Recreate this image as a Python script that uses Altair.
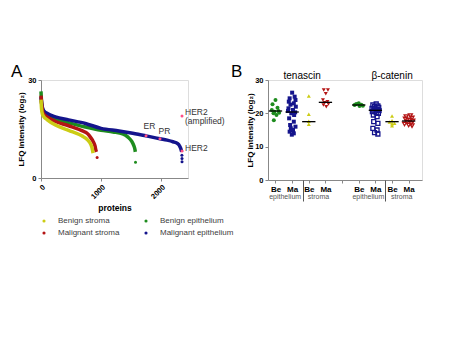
import altair as alt
import pandas as pd

FONT = "Liberation Sans"

# ---------------- Panel A data (ranked LFQ intensities) ----------
groups = ["Benign stroma", "Malignant stroma", "Benign epithelium", "Malignant epithelium"]
colors = ["#cccc14", "#b41414", "#1e8c1e", "#14148c"]

bs_rank = [0, 10, 25, 50, 100, 240, 460, 680, 780, 830, 850, 862, 868]
bs_lfq = [24.0, 21.0, 19.5, 18.7, 17.9, 16.2, 14.6, 12.9, 11.6, 10.3, 9.3, 8.2, 7.6]

be_rank = [0, 10, 25, 50, 100, 240, 460, 740, 1000, 1200, 1361, 1450, 1510, 1545, 1565, 1572]
be_lfq = [26.5, 23.0, 21.0, 20.0, 19.2, 18.0, 16.9, 15.6, 14.6, 14.1, 13.5, 12.5, 11.3, 10.0, 8.8, 8.0]

ms_rank = [0, 10, 25, 50, 100, 240, 460, 680, 780, 820, 860, 880, 900, 915, 925]
ms_lfq = [25.2, 23.0, 20.5, 19.5, 18.7, 17.3, 16.0, 14.5, 13.5, 12.6, 11.5, 10.8, 9.8, 8.5, 8.0]

me_rank = [0, 10, 25, 50, 100, 240, 460, 740, 1000, 1300, 1528, 1750, 1983, 2100, 2200, 2278, 2310, 2330, 2345]
me_lfq = [24.8, 23.0, 21.5, 20.5, 19.8, 18.7, 17.8, 16.7, 15.2, 14.4, 13.7, 12.9, 12.0, 11.6, 11.1, 10.5, 9.8, 9.0, 8.0]

# isolated end points
out_group = ["Benign epithelium", "Malignant stroma", "Malignant epithelium", "Malignant epithelium", "Malignant epithelium"]
out_rank = [1575, 935, 2348, 2350, 2350]
out_lfq = [4.8, 6.3, 7.0, 6.0, 5.0]

# marked proteins
mark_names = ["ER", "PR", "HER2", "HER2 amp"]
mark_rank = [1750, 1983, 2350, 2350]
mark_lfq = [12.9, 12.0, 8.3, 19.0]

ann_text = ["ER", "PR", "HER2", "(amplified)", "HER2"]
ann_rank = [1710, 1960, 2400, 2400, 2400]
ann_lfq = [14.9, 13.4, 19.4, 16.5, 8.3]

# ---------------- Panel B data ----------------
# position: 1 Be epi, 2 Ma epi, 3 Be stroma, 4 Ma stroma (tenascin); 6..9 same for beta-catenin
t_be_epi = [24.0, 22.7, 21.7, 21.0, 20.7, 20.5, 20.2, 20.0, 19.5, 17.9]
t_be_epi_dx = [0.0, -0.18, 0.12, -0.22, 0.18, -0.06, 0.22, -0.12, 0.06, -0.1]
t_ma_epi = [26.2, 25.0, 24.5, 24.0, 23.5, 23.0, 22.6, 22.0, 21.5, 21.0, 20.7, 20.3, 20.0, 19.5, 18.5,
            17.5, 16.5, 16.0, 15.5, 15.0, 14.5, 14.0, 13.6]
t_ma_epi_dx = [0.0, 0.15, -0.15, 0.2, -0.2, 0.1, -0.1, 0.22, -0.22, 0.05, -0.25, 0.18, -0.05, 0.12, -0.18,
               0.1, -0.12, 0.2, -0.08, 0.05, -0.15, 0.1, -0.02]
t_be_str = [25.2, 19.7, 17.6, 16.7]
t_be_str_dx = [0.0, 0.0, 0.0, 0.0]
t_ma_str = [27.0, 27.0, 25.9, 24.0, 23.5, 23.2, 22.8, 22.5, 22.0]
t_ma_str_dx = [-0.1, 0.15, 0.02, -0.15, 0.12, -0.05, 0.18, -0.12, 0.05]

c_be_epi = [23.0, 22.8, 22.6, 22.5, 22.3, 22.2]
c_be_epi_dx = [0.0, -0.15, 0.15, -0.25, 0.25, 0.05]
c_ma_epi = [22.8, 22.5, 22.2, 22.0, 21.8, 21.5, 21.2, 21.0, 20.8, 20.5, 20.2, 20.0, 19.5, 19.0,
            17.5, 17.0, 15.5, 15.0, 14.2, 13.8]
c_ma_epi_dx = [0.05, -0.15, 0.15, -0.05, 0.2, -0.2, 0.1, -0.1, 0.22, -0.18, 0.05, 0.18, -0.12, 0.1,
               -0.1, 0.15, -0.15, 0.1, -0.05, 0.15]
c_be_str = [19.2, 17.8, 17.4, 17.0, 16.9, 16.3]
c_be_str_dx = [0.0, 0.0, -0.15, 0.15, 0.0, 0.0]
c_ma_str = [19.3, 19.0, 18.6, 18.3, 18.0, 17.7, 17.4, 17.0, 16.8, 16.5, 16.3]
c_ma_str_dx = [0.1, -0.15, 0.2, -0.2, 0.05, 0.25, -0.1, 0.15, -0.25, 0.0, 0.2]

medians_pos = [1, 2, 3, 4, 6, 7, 8, 9]
medians_val = [20.7, 20.4, 17.5, 23.3, 22.5, 20.9, 17.5, 17.7]

positions = [1, 2, 3, 4, 6, 7, 8, 9]
pos_group = ["Benign epithelium", "Malignant epithelium", "Benign stroma", "Malignant stroma"] * 2
pos_filled = [True, True, True, True, True, False, True, False]
series_vals = [t_be_epi, t_ma_epi, t_be_str, t_ma_str, c_be_epi, c_ma_epi, c_be_str, c_ma_str]
series_dx = [t_be_epi_dx, t_ma_epi_dx, t_be_str_dx, t_ma_str_dx, c_be_epi_dx, c_ma_epi_dx, c_be_str_dx, c_ma_str_dx]

protein_titles = ["tenascin", "β-catenin"]
protein_title_pos = [2.6, 8.0]

tick_values = [1, 2, 3, 4, 5, 6, 7, 8, 9]
group_label_pos = [1.55, 2.65, 3.55, 6.55, 7.6, 8.55]

# ---------------- build tables ----------------
curve_rows = []
for order, (g, rk, lv) in enumerate([("Benign epithelium", be_rank, be_lfq),
                                      ("Malignant epithelium", me_rank, me_lfq),
                                      ("Malignant stroma", ms_rank, ms_lfq),
                                      ("Benign stroma", bs_rank, bs_lfq)]):
    for r, v in zip(rk, lv):
        curve_rows.append({"group": g, "rank": r, "lfq": v, "ord": order})
df_curve = pd.DataFrame(curve_rows)
df_out = pd.DataFrame({"group": out_group, "rank": out_rank, "lfq": out_lfq})
df_mark = pd.DataFrame({"name": mark_names, "rank": mark_rank, "lfq": mark_lfq})
df_ann = pd.DataFrame({"text": ann_text, "rank": ann_rank, "lfq": ann_lfq})

b_rows = []
for p, g, f, vals, dxs in zip(positions, pos_group, pos_filled, series_vals, series_dx):
    for v, d in zip(vals, dxs):
        b_rows.append({"x": p + d, "lfq": v, "group": g, "filled": f})
df_b = pd.DataFrame(b_rows)
df_med = pd.DataFrame({"x": medians_pos, "lfq": medians_val})
df_med["x1"] = df_med["x"] - 0.4
df_med["x2"] = df_med["x"] + 0.4
df_titles = pd.DataFrame({"x": protein_title_pos, "t": protein_titles, "lfq": [31.2, 31.2]})
df_glab = pd.DataFrame({"x": group_label_pos})

color_scale = alt.Scale(domain=groups, range=colors)
shape_scale = alt.Scale(domain=["Benign epithelium", "Malignant epithelium", "Benign stroma", "Malignant stroma"],
                        range=["circle", "square", "triangle-up", "triangle-down"])

# ---------------- Panel A ----------------
xA = alt.X("rank:Q", scale=alt.Scale(domain=[0, 2450], nice=False),
           axis=alt.Axis(values=[0, 1000, 2000], format="d", labelAngle=-45, title="proteins", grid=False,
                         labelFontWeight="bold", labelFontSize=7.5, titleFontSize=8.5,
                         titleFontWeight="bold", titlePadding=3, tickSize=3))
yA = alt.Y("lfq:Q", scale=alt.Scale(domain=[0, 30], nice=False),
           axis=alt.Axis(values=[0, 10, 20, 30], title="LFQ intensity (log₂)", grid=False,
                         labelFontWeight="bold", labelFontSize=7.5, titleFontSize=8,
                         titleFontWeight="bold", titlePadding=2, tickSize=3))

lines = alt.Chart(df_curve).mark_line(strokeWidth=3.5, interpolate="monotone").encode(
    x=xA, y=yA,
    color=alt.Color("group:N", scale=color_scale,
                    legend=alt.Legend(orient="none", legendX=-1, legendY=137, columns=2, title=None,
                                      symbolType="circle", symbolSize=10, labelFontSize=8,
                                      labelColor="#404040", labelFont=FONT, columnPadding=22,
                                      rowPadding=4, labelOffset=10, symbolStrokeWidth=0)),
    detail="ord:N", order="rank:Q")
outs = alt.Chart(df_out).mark_point(filled=True, size=9, opacity=1).encode(
    x="rank:Q", y="lfq:Q", color=alt.Color("group:N", scale=color_scale, legend=None))
marks_pts = alt.Chart(df_mark).mark_point(filled=True, size=9, color="#ff4f86", opacity=1).encode(
    x="rank:Q", y="lfq:Q")
anns = alt.Chart(df_ann).mark_text(align="left", baseline="alphabetic", fontSize=8.5, color="#333333",
                                   font=FONT).encode(x="rank:Q", y="lfq:Q", text="text:N")

panelA = alt.layer(lines, outs, marks_pts, anns).properties(
    width=147, height=98,
    title=alt.TitleParams("A", anchor="start", frame="group", fontSize=17, fontWeight="normal",
                          font=FONT, dx=-30, dy=7, offset=2))

# ---------------- Panel B ----------------
label_expr = ("datum.value == 5 ? '' : (datum.value == 1 || datum.value == 3 || datum.value == 6 || "
              "datum.value == 8 ? 'Be' : 'Ma')")
axB = alt.Axis(values=tick_values, labelExpr=label_expr, title=None, grid=False,
               labelFontWeight="bold", labelFontSize=8, tickSize=3, labelPadding=2)
scB = alt.Scale(domain=[0.55, 9.8], nice=False, zero=False)
axYB = alt.Axis(values=[0, 10, 20, 30], title="LFQ intensity (log₂)", grid=False,
                labelFontWeight="bold", labelFontSize=7.5, titleFontSize=8,
                titleFontWeight="bold", titlePadding=0, tickSize=3)
scYB = alt.Scale(domain=[0, 30], nice=False)

filled_pts = alt.Chart(df_b).transform_filter("datum.filled").mark_point(filled=True, size=16, opacity=1).encode(
    x=alt.X("x:Q", scale=scB, axis=axB), y=alt.Y("lfq:Q", scale=scYB, axis=axYB),
    color=alt.Color("group:N", scale=color_scale, legend=None),
    shape=alt.Shape("group:N", scale=shape_scale, legend=None))
open_pts = alt.Chart(df_b).transform_filter("!datum.filled").mark_point(filled=False, size=16, opacity=1,
                                                                         strokeWidth=1.3).encode(
    x=alt.X("x:Q", scale=scB, axis=axB), y=alt.Y("lfq:Q", scale=scYB, axis=axYB),
    color=alt.Color("group:N", scale=color_scale, legend=None),
    shape=alt.Shape("group:N", scale=shape_scale, legend=None))
meds = alt.Chart(df_med).mark_rule(color="black", strokeWidth=1.3).encode(
    x=alt.X("x1:Q", scale=scB, axis=axB), x2="x2:Q", y=alt.Y("lfq:Q", scale=scYB, axis=axYB))
titles = alt.Chart(df_titles).mark_text(fontSize=10, font=FONT, color="black", baseline="middle").encode(
    x=alt.X("x:Q", scale=scB, axis=axB), y=alt.Y("lfq:Q", scale=scYB, axis=axYB), text="t:N")

inner = alt.layer(filled_pts, open_pts, meds, titles)

glab_expr = ("datum.value < 2 || (datum.value > 6 && datum.value < 7) ? 'epithelium' : "
             "((datum.value > 3 && datum.value < 4) || datum.value > 8 ? 'stroma' : '')")
glab = alt.Chart(df_glab).mark_point(opacity=0).encode(
    x=alt.X("x:Q", scale=scB,
            axis=alt.Axis(values=group_label_pos, labelExpr=glab_expr, orient="bottom",
                          title=None, grid=False, domain=False, tickSize=21, labelPadding=-9,
                          labelFontSize=7, labelColor="#555555", labelFontWeight="normal",
                          tickColor="#555555", tickWidth=1,
                          tickOpacity={"condition": {"test": "datum.value > 2.6 && datum.value < 2.7 || datum.value > 7.5 && datum.value < 7.7",
                                                     "value": 1}, "value": 0})),
    y=alt.value(0))

panelB = alt.layer(inner, glab).resolve_axis(x="independent").properties(
    width=154, height=100,
    title=alt.TitleParams("B", anchor="start", frame="group", fontSize=17, fontWeight="normal",
                          font=FONT, dx=-37, dy=12, offset=2))

chart = alt.hconcat(panelA, panelB, spacing=80, bounds="flush").resolve_scale(
    color="independent", shape="independent").resolve_legend(color="independent").configure_view(
    stroke=None).configure_axis(
    labelFont=FONT, titleFont=FONT, domainColor="#222222", tickColor="#222222", domainWidth=1.5,
    labelColor="#222222", titleColor="#222222").configure(padding={"left": 10, "top": 62, "right": 5, "bottom": 5})

chart.save("out.html", embed_options={"renderer": "svg", "actions": False})
